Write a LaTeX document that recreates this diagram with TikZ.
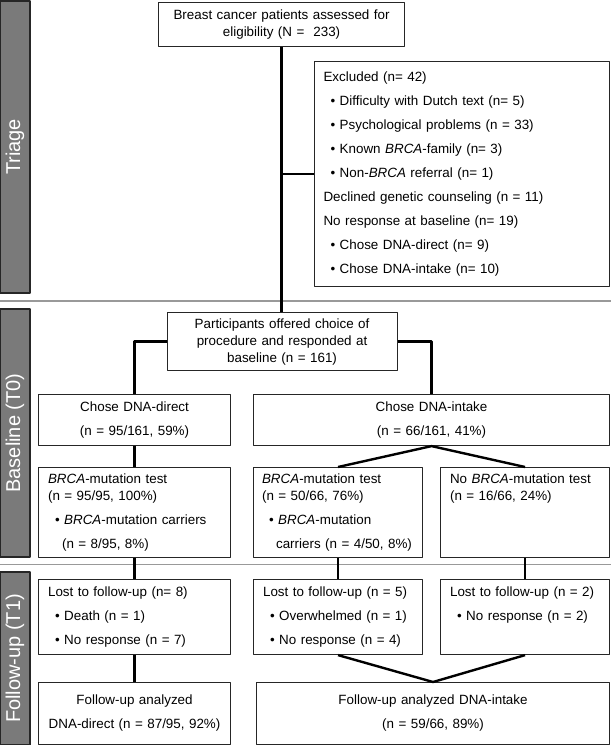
\documentclass[tikz,border=0pt]{standalone}
\usepackage{fontspec}
\setmainfont{Liberation Sans}
\newcommand{\brca}{\textit{BRCA}}
\newcommand{\itm}{\hspace*{7pt}\textbullet\ }
\newcommand{\cnt}{\hspace*{14pt}}
\begin{document}
\begin{tikzpicture}[x=1pt,y=-1pt,line join=round,
	box/.style={draw=black!85,line width=1.1pt,anchor=north west,inner ysep=0pt,font=\fontsize{13.4}{17}\selectfont},
	lbox/.style={box,inner xsep=9.5pt,align=left,font=\fontsize{13.4}{24}\selectfont},
	cbox/.style={box,inner xsep=3pt,align=center},
	wide/.style={font=\fontsize{13.4}{24}\selectfont},
	band/.style={draw=black!85,fill=black!52,line width=1.1pt,rotate=90,minimum height=30pt,inner sep=0pt,text=white,font=\fontsize{20}{22}\selectfont},
	link/.style={line width=2.4pt},
	sep/.style={black!40,line width=1.4pt}]
				\useasboundingbox (0,0) rectangle (611,745);
				% phases
				\node[band,minimum width=292pt] (triage) at (15,147) {Triage};
				\node[band,minimum width=248pt] (baseline) at (15,433) {Baseline (T0)};
				\node[band,minimum width=173pt] (followup) at (15,658.5) {Follow-up (T1)};
				\draw[sep] (0,301)--(611,301);
				\draw[sep] (0,564.5)--(611,564.5);
				% triage
				\node[cbox,text width=240pt,minimum height=44.5pt] (top) at (158,1.5) {Breast cancer patients assessed for\\eligibility (N = \ 233)};
				\node[lbox,text width=276pt,minimum height=225pt] (excl) at (313.5,61) {Excluded (n= 42)\\\itm Difficulty with Dutch text (n= 5)\\\itm Psychological problems (n = 33)\\\itm Known \brca-family (n= 3)\\\itm Non-\brca{} referral (n= 1)\\Declined genetic counseling (n = 11)\\No response at baseline (n= 19)\\\itm Chose DNA-direct (n= 9)\\\itm Chose DNA-intake (n= 10)};
				% baseline
				\node[cbox,text width=224pt,minimum height=58pt] (part) at (166.5,312) {Participants offered choice of\\procedure and responded at\\baseline (n = 161)};
				\node[cbox,wide,text width=186pt,minimum height=51pt] (direct) at (38,394) {Chose DNA-direct\\(n = 95/161, 59\%)};
				\node[cbox,wide,text width=350pt,minimum height=51pt] (intake) at (253,394) {Chose DNA-intake\\(n = 66/161, 41\%)};
				\node[lbox,text width=173pt,minimum height=90pt] (brca1) at (38,467) {\brca-mutation test\\[-7pt](n = 95/95, 100\%)\\\itm\brca-mutation carriers\\\cnt(n = 8/95, 8\%)};
				\node[lbox,inner xsep=8.5pt,text width=152pt,minimum height=90pt] (brca2) at (253,467) {\brca-mutation test\\[-7pt](n = 50/66, 76\%)\\\itm\brca-mutation\\\cnt\mbox{carriers (n = 4/50, 8\%)}};
				\node[lbox,text width=150pt,minimum height=90pt] (nobrca) at (440,467) {No \brca-mutation test\\[-7pt](n = 16/66, 24\%)\\\vphantom{(}\\\vphantom{(}};
				% follow-up
				\node[lbox,text width=173pt,minimum height=75pt] (lost1) at (38,579) {Lost to follow-up (n= 8)\\\itm Death (n = 1)\\\itm No response (n = 7)};
				\node[lbox,text width=150pt,minimum height=75pt] (lost2) at (253,579) {Lost to follow-up (n = 5)\\\itm Overwhelmed (n = 1)\\\itm No response (n = 4)};
				\node[lbox,text width=150pt,minimum height=75pt] (lost3) at (440,579) {Lost to follow-up (n = 2)\\\itm No response (n = 2)\\\vphantom{(}};
				\node[cbox,wide,text width=186pt,minimum height=61.5pt] (fu1) at (38,682) {Follow-up analyzed\\DNA-direct (n = 87/95, 92\%)};
				\node[cbox,wide,text width=347pt,minimum height=61.5pt] (fu2) at (256,682) {Follow-up analyzed DNA-intake\\(n = 59/66, 89\%)};
				% connectors
				\draw[link] (top.south)--(top.south |- part.north);
				\draw[link] (top.south |- excl.west)--(excl.west);
				\draw[link] (part.west) -| (direct.north);
				\draw[link] (part.east) -| (intake.north);
				\draw[link] (direct.south)--(direct.south |- brca1.north);
				\draw[link] (brca2.north)--(intake.south)--(nobrca.north);
				\draw[link] (brca1.south)--(lost1.north);
				\draw[link] (brca2.south)--(lost2.north);
				\draw[link] (nobrca.south)--(lost3.north);
				\draw[link] (lost1.south)--(fu1.north);
				\draw[link] (lost2.south)--(fu2.north)--(lost3.south);
			\end{tikzpicture}
\end{document}
